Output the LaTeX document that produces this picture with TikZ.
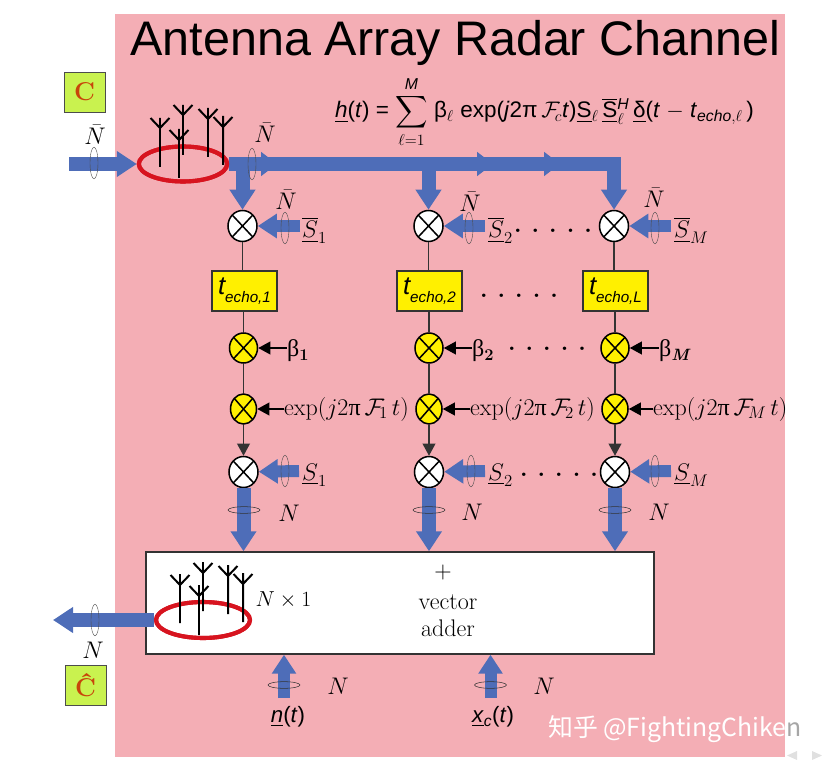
\documentclass[tikz,border=0pt]{standalone}
\usepackage{fix-cm}
\usepackage{amsmath,amsfonts,amssymb}
\usepackage{fontspec}
\usetikzlibrary{arrows.meta}
\usetikzlibrary{shapes.geometric}
\newfontfamily\sansfam{Liberation Sans}
\newfontfamily\greekfam{Liberation Serif}
\newfontfamily\cjkfam{Noto Sans CJK SC}
\definecolor{pinkbg}{HTML}{F4AEB5}
\definecolor{busblue}{HTML}{4E6DB8}
\definecolor{boxyellow}{HTML}{FFF000}
\definecolor{boxlime}{HTML}{C9F24F}
\definecolor{ringred}{HTML}{D7141F}
\definecolor{capred}{HTML}{C8450A}
\definecolor{wiregray}{HTML}{333333}
\newcommand{\echolabel}[1]{{\sansfam\itshape\fontsize{22}{22}\selectfont t\raisebox{-.3em}{\fontsize{13}{13}\selectfont echo,#1}}}
\newcommand{\betalabel}[1]{{\greekfam β}$_{\text{\fontsize{14}{14}\selectfont\bfseries #1}}$}
\newcommand{\explabel}[1]{$\exp(j2\text{\greekfam π}\,\mathcal{F}_{\!#1}\,t)$}
\newcommand{\dotrow}{\textbf{.\hspace{.42em}.\hspace{.42em}.\hspace{.42em}.\hspace{.42em}.}}
\newcommand{\antennaat}[4]{\draw[antenna] (#1, #3) -- (#1, #4) (#1-9.5, #2-10) -- (#1, #2) -- (#1+9.5, #2-10);}
\tikzset{
  antenna/.style={line width=1.7pt, black},
  busarrow/.style={line width=.42cm, busblue, -{Triangle[length=.6cm,width=.74cm]}, line join=miter},
  busstub/.style={line width=.42cm, busblue, -{Triangle[length=.48cm,width=.7cm]}},
  sidearrow/.style={line width=.36cm, busblue, -{Triangle[length=.57cm,width=.7cm]}},
  wire/.style={line width=1.2pt, wiregray},
  wirearrow/.style={wire, -{Triangle[length=.36cm,width=.38cm]}},
  feedarrow/.style={line width=1.4pt, black, -{Triangle[length=.36cm,width=.38cm]}},
  mixer/.style={ellipse, draw=black, line width=1.3pt, inner sep=0, fill=white, minimum width=.87cm, minimum height=.93cm,
    path picture={\draw[line width=1.3pt] (path picture bounding box.north west) -- (path picture bounding box.south east)
      (path picture bounding box.north east) -- (path picture bounding box.south west);}},
  gainmixer/.style={mixer, fill=boxyellow, minimum width=.84cm, minimum height=.9cm},
  phasemixer/.style={mixer, fill=boxyellow, minimum width=.78cm, minimum height=.9cm},
  echobox/.style={rectangle, draw=black!80, line width=1.2pt, fill=boxyellow, inner sep=0, minimum width=1.95cm, minimum height=1.2cm},
  capbox/.style={rectangle, draw=black!70, line width=.8pt, fill=boxlime, inner sep=0, minimum width=1.23cm, minimum height=1.2cm,
    text=capred, font=\fontsize{22}{24}\selectfont\bfseries},
  redring/.style={ellipse, draw=ringred, line width=3.5pt, inner sep=0},
  ringv/.style={ellipse, draw=black!70, line width=.35pt, inner sep=0, minimum width=.24cm, minimum height=.95cm},
  ringh/.style={ellipse, draw=black!80, line width=.45pt, inner sep=0, minimum width=.96cm, minimum height=.2cm},
  lbl/.style={inner sep=0, text=black, font=\fontsize{20.5}{24}\selectfont},
}
\begin{document}
\begin{tikzpicture}[x=.03cm, y=-.03cm]
  \useasboundingbox (0,0) rectangle (823,767);
  \fill[pinkbg] (115,14) rectangle (785,757);
  \fill[black!12] (797,751) -- (787,755.5) -- (797,760) -- cycle;
  \fill[black!12] (812,751) -- (822,755.5) -- (812,760) -- cycle;
  \node[inner sep=0, font=\sansfam\fontsize{41.4}{44}\selectfont] (title) at (455.5,43) {Antenna Array Radar Channel};
  \node[inner sep=0, font=\sansfam\fontsize{19.2}{22}\selectfont] (channeleq) at (544.5,112)
    {\underline{\textit{h}}(\textit{t}) = $\displaystyle\sum_{\ell=1}^{\textit{M}}$ β$_\ell$ exp(\textit{j}2π\,$\mathcal{F}_{\!c}$\textit{t})\underline{S}$_\ell$\,\underline{$\overline{\text{S}}$}$_\ell^{\textit{H}}$\,\underline{δ}(\textit{t} $-$ \textit{t}$_{\textit{echo},\ell}$\,)};

  \node[capbox] (cin) at (84.5,92) {C};
  \node[capbox] (cout) at (85.5,685) {\^C};
  \node[lbl] (nin) at (95,135) {$\bar{N}$};
  \node[lbl] (nbus) at (265,133) {$\bar{N}$};

  \node[redring, minimum width=2.65cm, minimum height=1.05cm] (txarray) at (183,164) {};
  \coordinate (intail) at (69,164);
  \coordinate (drop1) at (242.5,164);
  \coordinate (drop2) at (428.5,164);
  \coordinate (head1) at (277,164);
  \coordinate (head2) at (493,164);
  \coordinate (head3) at (560,164);

  \node[mixer] (m1) at (242.5,226) {};
  \node[mixer] (m2) at (428.5,226) {};
  \node[mixer] (m3) at (614,226) {};
  \node[echobox] (e1) at (244.5,291) {\echolabel{1}};
  \node[echobox] (e2) at (429.5,291) {\echolabel{2}};
  \node[echobox] (e3) at (615.5,291) {\echolabel{L}};
  \node[gainmixer] (b1) at (243.5,348) {};
  \node[gainmixer] (b2) at (429,348) {};
  \node[gainmixer] (b3) at (615,348) {};
  \node[phasemixer] (p1) at (243.5,409) {};
  \node[phasemixer] (p2) at (429,409) {};
  \node[phasemixer] (p3) at (615,409) {};
  \node[mixer] (w1) at (243.5,472) {};
  \node[mixer] (w2) at (429,472) {};
  \node[mixer] (w3) at (615,472) {};
  \node[rectangle, draw=black!80, line width=1.2pt, fill=white, inner sep=0, minimum width=15.24cm, minimum height=3.06cm] (adder) at (400,603) {};

  \draw[busarrow] (intail) -- (txarray.west);
  \draw[busstub] (txarray.east) -- (head3);
  \draw[busstub] (txarray.east) -- (head2);
  \draw[busstub] (txarray.east) -- (head1);
  \draw[busarrow] (txarray.east) -| (m3);
  \draw[busarrow] (drop1) -- (m1);
  \draw[busarrow] (drop2) -- (m2);
  \node[redring, minimum width=2.65cm, minimum height=1.05cm] (txring) at (183,164) {};

  \antennaat{160}{128}{118}{167}
  \antennaat{183}{115}{105}{155}
  \antennaat{208}{119}{108}{157}
  \antennaat{223}{127}{116}{165}
  \antennaat{179}{140}{129}{178}

  \coordinate (st1) at (300,226);
  \coordinate (st2) at (485,226);
  \coordinate (st3) at (671,226);
  \draw[sidearrow] (st1) -- (m1);
  \draw[sidearrow] (st2) -- (m2);
  \draw[sidearrow] (st3) -- (m3);
  \node[ringv] (rin) at (94,163) {};
  \node[ringv] (rbus) at (252,164) {};
  \node[ringv] (rs1) at (285,228) {};
  \node[ringv] (rs2) at (469,228) {};
  \node[ringv] (rs3) at (655,228) {};
  \node[lbl] (ns1) at (286,200) {$\bar{N}$};
  \node[lbl] (ns2) at (470,202) {$\bar{N}$};
  \node[lbl] (ns3) at (654,198) {$\bar{N}$};
  \node[lbl, anchor=west] (sb1) at (302,230) {$\underline{\overline{S}}_1$};
  \node[lbl, anchor=west] (sb2) at (488,230) {$\underline{\overline{S}}_2$};
  \node[lbl, anchor=west] (sb3) at (674,230) {$\underline{\overline{S}}_M$};
  \node[lbl, anchor=base] (dots1) at (553,233) {\dotrow};
  \node[lbl, anchor=base] (dots2) at (519,297) {\dotrow};

  \draw[wire] (m1) -- (m1 |- e1.north);
  \draw[wire] (m2) -- (m2 |- e2.north);
  \draw[wire] (m3) -- (m3 |- e3.north);
  \draw[wire] (b1 |- e1.south) -- (b1);
  \draw[wire] (b2 |- e2.south) -- (b2);
  \draw[wire] (b3 |- e3.south) -- (b3);
  \draw[wire] (b1) -- (p1);
  \draw[wire] (b2) -- (p2);
  \draw[wire] (b3) -- (p3);
  \draw[wirearrow] (p1) -- (w1);
  \draw[wirearrow] (p2) -- (w2);
  \draw[wirearrow] (p3) -- (w3);

  \node[lbl, anchor=west] (g1) at (287,351) {\betalabel{1}};
  \node[lbl, anchor=west] (g2) at (472,351) {\betalabel{2}};
  \node[lbl, anchor=west] (g3) at (659,351) {\betalabel{\itshape M}};
  \node[lbl, anchor=base] (dots3) at (547,350) {\dotrow};
  \draw[feedarrow] (g1.west |- b1) -- (b1);
  \draw[feedarrow] (g2.west |- b2) -- (b2);
  \draw[feedarrow] (g3.west |- b3) -- (b3);

  \node[lbl, anchor=west] (f1) at (284,409) {\explabel{1}};
  \node[lbl, anchor=west] (f2) at (470,409) {\explabel{2}};
  \node[lbl, anchor=west] (f3) at (653,409) {\explabel{M}};
  \draw[feedarrow] (f1.west |- p1) -- (p1);
  \draw[feedarrow] (f2.west |- p2) -- (p2);
  \draw[feedarrow] (f3.west |- p3) -- (p3);

  \coordinate (bt1) at (299,471);
  \coordinate (bt2) at (485,471);
  \coordinate (bt3) at (671,471);
  \draw[sidearrow] (bt1) -- (w1);
  \draw[sidearrow] (bt2) -- (w2);
  \draw[sidearrow] (bt3) -- (w3);
  \node[ringv] (rb1) at (285,471) {};
  \node[ringv] (rb2) at (471,471) {};
  \node[ringv] (rb3) at (655,471) {};
  \node[lbl, anchor=west] (su1) at (302,475) {$\underline{S}_1$};
  \node[lbl, anchor=west] (su2) at (488,475) {$\underline{S}_2$};
  \node[lbl, anchor=west] (su3) at (674,475) {$\underline{S}_M$};
  \node[lbl, anchor=base] (dots4) at (559,476) {\dotrow};

  \draw[busarrow] (w1) -- (w1 |- adder.north);
  \draw[busarrow] (w2) -- (w2 |- adder.north);
  \draw[busarrow] (w3) -- (w3 |- adder.north);
  \node[ringh] (rd1) at (244,510) {};
  \node[ringh] (rd2) at (429,510) {};
  \node[ringh] (rd3) at (615,510) {};
  \node[lbl] (nd1) at (289,513) {$N$};
  \node[lbl] (nd2) at (472,512) {$N$};
  \node[lbl] (nd3) at (659,512) {$N$};

  \node[lbl] (plus) at (443,573) {+};
  \node[lbl] (vec) at (448,602) {vector};
  \node[lbl] (add) at (448,628) {adder};
  \node[lbl, font=\fontsize{18.5}{22}\selectfont] (nx) at (283.5,600) {$N\times 1$};

  \node[redring, minimum width=2.82cm, minimum height=1.08cm] (rxarray) at (203,620) {};
  \coordinate (outtip) at (53,620);
  \draw[busarrow] (rxarray.west) -- (outtip);
  \node[redring, minimum width=2.82cm, minimum height=1.08cm] (rxring) at (203,620) {};
  \antennaat{180}{585}{574}{623}
  \antennaat{203}{573}{562}{611}
  \antennaat{228}{576}{565}{614}
  \antennaat{243}{584}{573}{622}
  \antennaat{199}{596}{585}{635}
  \node[ringv] (rout) at (95,620) {};
  \node[lbl] (nout) at (93,650) {$N$};

  \coordinate (nt) at (284,698);
  \coordinate (xt) at (490.5,698);
  \draw[sidearrow] (nt) -- (nt |- adder.south);
  \draw[sidearrow] (xt) -- (xt |- adder.south);
  \node[ringh] (rn) at (284,685) {};
  \node[ringh] (rx) at (490.5,685) {};
  \node[lbl] (nn) at (338,686) {$N$};
  \node[lbl] (nx2) at (544,686) {$N$};
  \node[lbl, font=\sansfam\fontsize{19}{22}\selectfont] (noise) at (288,717) {\underline{\textit{n}}(\textit{t})};
  \node[lbl, font=\sansfam\fontsize{19}{22}\selectfont] (signal) at (493,717) {\underline{\textit{x}}$_{\textit{c}}$(\textit{t})};

  \node[inner sep=0, text=white, font=\fontsize{21.2}{24}\selectfont] (mark) at (675,729) {\cjkfam 知乎 @FightingChike{\color{black!35}n}};
\end{tikzpicture}
\end{document}
